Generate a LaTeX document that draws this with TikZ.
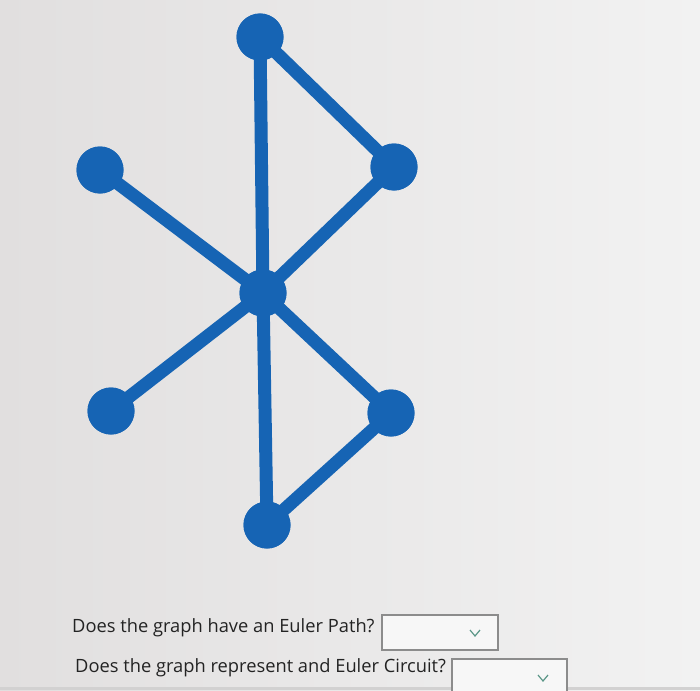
\documentclass[tikz,border=0pt]{standalone}
\usepackage{fontspec}
\setmainfont{Open Sans}
\definecolor{edgeblue}{RGB}{22,100,180}
\definecolor{bgL}{RGB}{225,223,223}
\definecolor{bgR}{RGB}{242,242,242}
\definecolor{boxgray}{RGB}{140,140,140}
\definecolor{chev}{RGB}{90,150,135}
\definecolor{txt}{RGB}{35,35,35}
\tikzset{
  vert/.style={circle, fill=edgeblue, inner sep=0pt, minimum size=47pt},
  edge/.style={draw=edgeblue, line width=13pt},
  question/.style={anchor=base west, inner sep=0pt, text=txt, font=\fontsize{18.3}{22}\selectfont},
  answerbox/.style={draw=boxgray, line width=1.2pt, fill=bgR!60!white, inner sep=0pt},
  chevron/.style={draw=chev, line width=1.2pt}
}
\begin{document}
\begin{tikzpicture}[x=1pt,y=-1pt]
\useasboundingbox (0,0) rectangle (700,690);
\shade[left color=bgL, right color=bgR] (0,0) rectangle (700,690);
\fill[bgL!85!gray] (0,687) rectangle (700,690);
% vertices
\node[vert] (t)  at (260,37)  {};
\node[vert] (ru) at (394,167) {};
\node[vert] (lu) at (100,170) {};
\node[vert] (c)  at (263,293) {};
\node[vert] (ll) at (111,411) {};
\node[vert] (rl) at (391,413) {};
\node[vert] (b)  at (267,525) {};
% edges
\draw[edge] (t.center) -- (c.center);
\draw[edge] (t.center) -- (ru.center);
\draw[edge] (ru.center) -- (c.center);
\draw[edge] (lu.center) -- (c.center);
\draw[edge] (c.center) -- (ll.center);
\draw[edge] (c.center) -- (rl.center);
\draw[edge] (rl.center) -- (b.center);
\draw[edge] (c.center) -- (b.center);
% redraw vertices on top of the edges
\foreach \n in {t,ru,lu,c,ll,rl,b} \fill[edgeblue] (\n) circle (23.5pt);
% questions
\node[question] (q1) at (72,632) {Does the graph have an Euler Path?};
\node[question] (q2) at (75,672) {Does the graph represent and Euler Circuit?};
\node[answerbox, minimum width=116pt, minimum height=35pt] (a1) at (440,632.5) {};
\node[answerbox, minimum width=115pt, minimum height=40pt] (a2) at (509.5,679) {};
\draw[chevron] (470,630) -- ++(5,6) -- ++(5,-6);
\draw[chevron] (538,675) -- ++(5,6) -- ++(5,-6);
\end{tikzpicture}
\end{document}
